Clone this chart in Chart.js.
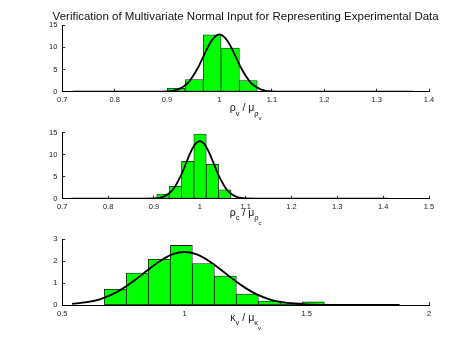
<!DOCTYPE html>
<html><head><meta charset="utf-8">
<script src="https://cdn.jsdelivr.net/npm/chart.js@4.4.1/dist/chart.umd.min.js"></script>
<style>
html,body{margin:0;padding:0;background:#fff;}
#wrap{position:relative;width:474px;height:355px;overflow:hidden;background:#fff;}
canvas{position:absolute;left:0;}
</style></head><body>
<div id="wrap">
<canvas id="c1" width="474" height="125" style="top:0px"></canvas>
<canvas id="c2" width="474" height="110" style="top:120px"></canvas>
<canvas id="c3" width="474" height="130" style="top:225px"></canvas>
</div>
<script>
const titleText = 'Verification of Multivariate Normal Input for Representing Experimental Data';

// Panel 1: rho_v / mu_rho_v
const binCenters1 = [0.917, 0.952, 0.986, 1.021, 1.055];
const counts1 = [0.77, 2.75, 12.8, 9.8, 2.5];
const curveX1 = [0.72, 0.85, 0.90, 0.92, 0.94, 0.96, 0.97, 0.98, 0.99, 1.00, 1.01, 1.02, 1.03, 1.04, 1.06, 1.08, 1.10, 1.15, 1.37];
const curveY1 = [0, 0, 0.07, 0.46, 1.98, 5.6, 8.1, 10.5, 12.2, 12.9, 12.2, 10.5, 8.1, 5.6, 1.98, 0.46, 0.07, 0, 0];
const xTicks1 = [0.7, 0.8, 0.9, 1.0, 1.1, 1.2, 1.3, 1.4];
const yTicks1 = [0, 5, 10, 15];
const label1 = [['ρ', 0], ['v', 1], [' / μ', 0], ['ρ', 1], ['v', 2]];

// Panel 2: rho_c / mu_rho_c
const binCenters2 = [0.9195, 0.9465, 0.9735, 1.0005, 1.0275, 1.0545];
const counts2 = [1.05, 2.8, 8.5, 14.7, 7.8, 2.0];
const curveX2 = [0.72, 0.85, 0.90, 0.92, 0.94, 0.96, 0.97, 0.98, 0.99, 1.00, 1.01, 1.02, 1.03, 1.04, 1.06, 1.08, 1.10, 1.15, 1.41];
const curveY2 = [0, 0, 0.06, 0.42, 1.89, 5.55, 8.07, 10.56, 12.4, 13.1, 12.4, 10.56, 8.07, 5.55, 1.89, 0.42, 0.06, 0, 0];
const xTicks2 = [0.7, 0.8, 0.9, 1.0, 1.1, 1.2, 1.3, 1.4, 1.5];
const yTicks2 = [0, 5, 10, 15];
const label2 = [['ρ', 0], ['c', 1], [' / μ', 0], ['ρ', 1], ['c', 2]];

// Panel 3: kappa_v / mu_kappa_v
const binCenters3 = [0.717, 0.807, 0.897, 0.987, 1.077, 1.167, 1.257, 1.347, 1.437, 1.527];
const counts3 = [0.72, 1.46, 2.09, 2.72, 1.89, 1.32, 0.5, 0.18, 0.1, 0.14];
const curveX3 = [0.54, 0.6, 0.65, 0.7, 0.75, 0.8, 0.85, 0.9, 0.95, 1.0, 1.05, 1.1, 1.15, 1.2, 1.25, 1.3, 1.35, 1.4, 1.5, 1.6, 1.7, 1.88];
const curveY3 = [0.05, 0.128, 0.25, 0.46, 0.77, 1.16, 1.60, 2.01, 2.31, 2.42, 2.31, 2.01, 1.60, 1.16, 0.77, 0.46, 0.25, 0.128, 0.025, 0.003, 0, 0];
const xTicks3 = [0.5, 1, 1.5, 2];
const yTicks3 = [0, 1, 2, 3];
const label3 = [['κ', 0], ['v', 1], [' / μ', 0], ['κ', 1], ['v', 2]];

const FAM = "'Liberation Sans', Arial, Helvetica, sans-serif";
Chart.defaults.font.family = FAM;
Chart.defaults.font.size = 7.5;
Chart.defaults.color = '#222';

const textPlugin = {
  id: 'textPlugin',
  afterDraw(chart, args, opts) {
    const ctx = chart.ctx;
    const cx = (chart.chartArea.left + chart.chartArea.right) / 2;
    ctx.save();
    ctx.fillStyle = '#111';
    if (opts.title) {
      ctx.font = '11.5px ' + FAM;
      ctx.textAlign = 'center';
      ctx.textBaseline = 'alphabetic';
      ctx.fillText(opts.title, cx, opts.titleY);
    }
    const parts = opts.parts;
    if (parts) {
      const sizes = [10.5, 7.5, 6];
      const offs = [0, 4.5, 9];
      const widths = parts.map(p => { ctx.font = sizes[p[1]] + 'px ' + FAM; return ctx.measureText(p[0]).width; });
      const total = widths.reduce((a, b) => a + b, 0);
      let x = cx - total / 2;
      const y0 = chart.chartArea.bottom + opts.dy;
      ctx.textBaseline = 'alphabetic';
      ctx.textAlign = 'left';
      parts.forEach((p, i) => {
        ctx.font = sizes[p[1]] + 'px ' + FAM;
        ctx.fillText(p[0], x, y0 + offs[p[1]]);
        x += widths[i];
      });
    }
    ctx.restore();
  }
};

function fmt(v) { return String(Math.round(v * 100) / 100); }

function makePanel(id, cfg) {
  const ctx = document.getElementById(id);
  new Chart(ctx, {
    type: 'bar',
    data: {
      datasets: [
        {
          type: 'line', order: 1,
          data: cfg.curveX.map((x, i) => ({ x: x, y: cfg.curveY[i] })),
          borderColor: '#000', borderWidth: 1.8, pointRadius: 0,
          cubicInterpolationMode: 'monotone', fill: false
        },
        {
          type: 'bar', order: 2,
          data: cfg.centers.map((x, i) => ({ x: x, y: cfg.counts[i] })),
          backgroundColor: '#00ff00', borderColor: '#1e1e1e', borderWidth: 0.8,
          borderSkipped: false,
          barPercentage: 1, categoryPercentage: 1
        }
      ]
    },
    options: {
      responsive: false, animation: false, events: [],
      layout: { padding: { left: 0, right: 45, top: cfg.padTop, bottom: 0 } },
      plugins: {
        legend: { display: false }, tooltip: { enabled: false }, title: { display: false },
        textPlugin: { parts: cfg.label, dy: cfg.labelDy, title: cfg.title, titleY: 19.5 }
      },
      scales: {
        x: {
          type: 'linear', min: cfg.xMin, max: cfg.xMax, offset: false,
          afterBuildTicks: s => { s.ticks = cfg.xTicks.map(v => ({ value: v })); },
          afterFit: s => { s.height = cfg.xAxisH; },
          grid: { offset: false, drawOnChartArea: false, tickLength: -3, color: '#000', lineWidth: 0.8 },
          border: { color: '#000', width: 1 },
          ticks: { padding: 7, maxRotation: 0, autoSkip: false, callback: v => fmt(v) }
        },
        y: {
          min: 0, max: cfg.yMax,
          afterBuildTicks: s => { s.ticks = cfg.yTicks.map(v => ({ value: v })); },
          afterFit: s => { s.width = 62.3; },
          grid: { drawOnChartArea: false, tickLength: -3, color: '#000', lineWidth: 0.8 },
          border: { color: '#000', width: 1 },
          ticks: { padding: 8, autoSkip: false, callback: v => fmt(v) }
        }
      }
    },
    plugins: [textPlugin]
  });
}

makePanel('c1', { centers: binCenters1, counts: counts1, curveX: curveX1, curveY: curveY1,
  xTicks: xTicks1, yTicks: yTicks1, xMin: 0.7, xMax: 1.4, yMax: 15, label: label1,
  padTop: 25, xAxisH: 33.3, labelDy: 19.5, title: titleText });
makePanel('c2', { centers: binCenters2, counts: counts2, curveX: curveX2, curveY: curveY2,
  xTicks: xTicks2, yTicks: yTicks2, xMin: 0.7, xMax: 1.5, yMax: 15, label: label2,
  padTop: 12.7, xAxisH: 31.3, labelDy: 17, title: null });
makePanel('c3', { centers: binCenters3, counts: counts3, curveX: curveX3, curveY: curveY3,
  xTicks: xTicks3, yTicks: yTicks3, xMin: 0.5, xMax: 2, yMax: 3, label: label3,
  padTop: 14.3, xAxisH: 50, labelDy: 15.5, title: null });
</script>
</body></html>
